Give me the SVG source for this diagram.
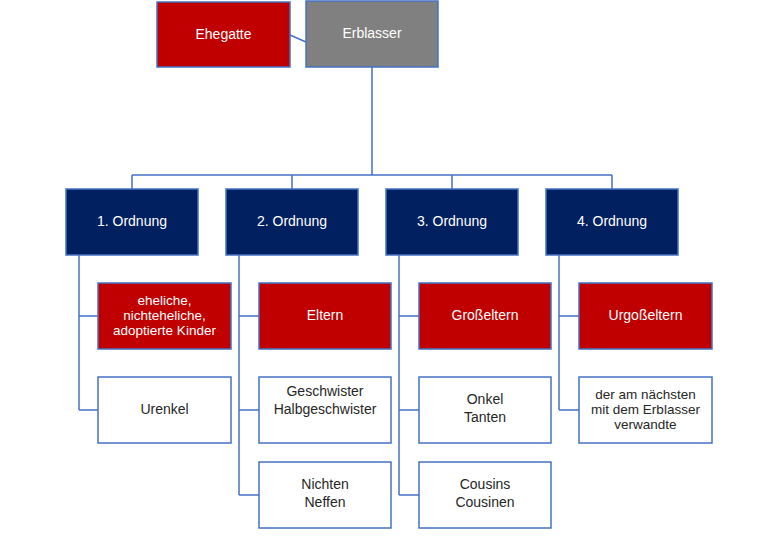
<svg xmlns="http://www.w3.org/2000/svg" width="768" height="537" viewBox="0 0 768 537">
<style>
rect{stroke:#4472C4;stroke-width:1.5}
.r{fill:#C00000}.g{fill:#808080}.b{fill:#002060}.w{fill:#fff}
text{font-family:"Liberation Sans",Arial,sans-serif;font-size:14px;text-anchor:middle}
.lt{fill:#fff}.dk{fill:#262626}
.s{font-size:13.5px}
#conn path{fill:none;stroke:#4472C4;stroke-width:1.5}
</style>
<rect width="768" height="537" fill="#fff" style="stroke:none"/>
<g id="conn">
<path d="M290,35 L306,42"/>
<path d="M372,67 V175 M132,175 H612 M132,175 V189 M292,175 V189 M452,175 V189 M612,175 V189"/>
<path d="M79,255 V410 M79,316 H98 M79,410 H98"/>
<path d="M239,255 V495 M239,316 H259 M239,410 H259 M239,495 H259"/>
<path d="M399,255 V495 M399,316 H419 M399,410 H419 M399,495 H419"/>
<path d="M559,255 V410 M559,316 H579 M559,410 H579"/>
</g>
<g id="ehegatte"><rect class="r" x="157" y="2" width="133" height="65"/><text class="lt" x="223.5" y="39">Ehegatte</text></g>
<g id="erblasser"><rect class="g" x="306" y="1" width="132" height="66"/><text class="lt" x="372" y="38">Erblasser</text></g>
<g id="o1"><rect class="b" x="66" y="189" width="132" height="66"/><text class="lt" x="132" y="226">1. Ordnung</text></g>
<g id="o2"><rect class="b" x="226" y="189" width="132" height="66"/><text class="lt" x="292" y="226">2. Ordnung</text></g>
<g id="o3"><rect class="b" x="386" y="189" width="132" height="66"/><text class="lt" x="452" y="226">3. Ordnung</text></g>
<g id="o4"><rect class="b" x="546" y="189" width="132" height="66"/><text class="lt" x="612" y="226">4. Ordnung</text></g>
<g id="kinder"><rect class="r" x="98" y="283" width="133" height="66"/><text class="lt s" x="164.5" y="305">eheliche,</text><text class="lt s" x="164.5" y="320">nichteheliche,</text><text class="lt s" x="164.5" y="335">adoptierte Kinder</text></g>
<g id="urenkel"><rect class="w" x="98" y="377" width="133" height="66"/><text class="dk" x="164.5" y="414">Urenkel</text></g>
<g id="eltern"><rect class="r" x="259" y="283" width="132" height="66"/><text class="lt" x="325" y="320">Eltern</text></g>
<g id="geschwister"><rect class="w" x="259" y="377" width="132" height="66"/><text class="dk" x="325" y="396">Geschwister</text><text class="dk" x="325" y="414">Halbgeschwister</text></g>
<g id="nichten"><rect class="w" x="259" y="462" width="132" height="66"/><text class="dk" x="325" y="489">Nichten</text><text class="dk" x="325" y="507">Neffen</text></g>
<g id="grosseltern"><rect class="r" x="419" y="283" width="132" height="66"/><text class="lt" x="485" y="320">Großeltern</text></g>
<g id="onkel"><rect class="w" x="419" y="377" width="132" height="66"/><text class="dk" x="485" y="404">Onkel</text><text class="dk" x="485" y="422">Tanten</text></g>
<g id="cousins"><rect class="w" x="419" y="462" width="132" height="66"/><text class="dk" x="485" y="489">Cousins</text><text class="dk" x="485" y="507">Cousinen</text></g>
<g id="urgrosseltern"><rect class="r" x="579" y="283" width="133" height="66"/><text class="lt" x="645.5" y="320">Urgoßeltern</text></g>
<g id="verwandte"><rect class="w" x="579" y="377" width="133" height="66"/><text class="dk s" x="645.5" y="399">der am nächsten</text><text class="dk s" x="645.5" y="414">mit dem Erblasser</text><text class="dk s" x="645.5" y="429">verwandte</text></g>
</svg>
